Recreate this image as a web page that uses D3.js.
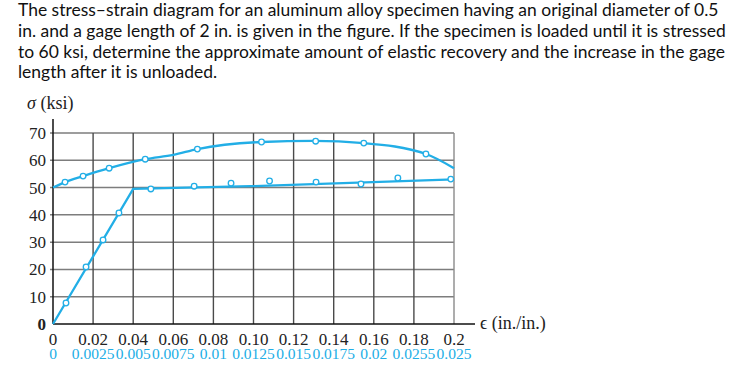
<!DOCTYPE html>
<html>
<head>
<meta charset="utf-8">
<script src="https://cdn.jsdelivr.net/npm/d3@7"></script>
<style>
  body { margin: 0; background: #fff; }
  svg { display: block; }
</style>
</head>
<body>
<svg id="chart" width="752" height="375"></svg>
<script>
// problem text above the figure
var titleLines = [
  "The stress\u2013strain diagram for an aluminum alloy specimen having an original diameter of 0.5",
  "in. and a gage length of 2 in. is given in the figure. If the specimen is loaded until it is stressed",
  "to 60 ksi, determine the approximate amount of elastic recovery and the increase in the gage",
  "length after it is unloaded."
];

// axis ticks
var stressTicks = [0, 10, 20, 30, 40, 50, 60, 70];
var strainTicks = [0, 0.02, 0.04, 0.06, 0.08, 0.10, 0.12, 0.14, 0.16, 0.18, 0.2];
var strainLabels = ["0", "0.02", "0.04", "0.06", "0.08", "0.10", "0.12", "0.14", "0.16", "0.18", "0.2"];
var strainLabelsBlue = ["0", "0.0025", "0.005", "0.0075", "0.01", "0.0125", "0.015", "0.0175", "0.02", "0.0255", "0.025"];

// upper curve (black strain scale)
var upperStrain = [0, 0.006, 0.015, 0.028, 0.046, 0.06, 0.072, 0.104, 0.13, 0.155, 0.186, 0.2];
var upperStress = [50, 52, 54.2, 57.1, 60.4, 62, 64.1, 66.7, 67.1, 66.3, 62.3, 57.1];
var upperMarkStrain = [0.006, 0.015, 0.028, 0.046, 0.072, 0.104, 0.131, 0.155, 0.186];
var upperMarkStress = [52, 54.2, 57.1, 60.4, 64.1, 66.7, 67, 66.3, 62.3];

// lower curve (blue strain scale)
var lowerStrain = [0, 0.005, 0.0123, 0.025];
var lowerStress = [0, 49.5, 50.5, 53.0];
var lowerMarkStrain = [0.00081, 0.00206, 0.00312, 0.00411, 0.0061, 0.0088, 0.0111, 0.0135, 0.0164, 0.0192, 0.0215, 0.0248];
var lowerMarkStress = [7.7, 20.9, 30.8, 40.7, 49.5, 50.5, 51.6, 52.4, 52, 51.3, 53.5, 53.1];

var blue = "#22aee6";
var svg = d3.select("#chart");

// title
var title = svg.append("g")
  .attr("font-family", "Lato, 'Open Sans', sans-serif")
  .attr("font-size", 16)
  .attr("fill", "#111");
var tl = title.selectAll("text").data(titleLines).enter().append("text")
  .attr("x", 18)
  .attr("y", function (d, i) { return 16 + i * 20.8; })
  .text(function (d) { return d; });
var w0 = tl.node().getComputedTextLength();
title.attr("font-size", 16 * 701 / w0);

var x = d3.scaleLinear().domain([0, 0.2]).range([53, 454]);
var xb = d3.scaleLinear().domain([0, 0.025]).range([53, 454]);
var y = d3.scaleLinear().domain([0, 70]).range([324, 133]);

// grid
var grid = svg.append("g");
grid.selectAll("line.h").data(stressTicks.slice(1)).enter().append("line")
  .attr("x1", x(0) - 3).attr("x2", x(0.2))
  .attr("y1", function (d) { return y(d); }).attr("y2", function (d) { return y(d); })
  .attr("stroke", "#7d7d7d").attr("stroke-width", 1.5);
grid.selectAll("line.v").data(strainTicks.slice(1)).enter().append("line")
  .attr("x1", function (d) { return x(d); }).attr("x2", function (d) { return x(d); })
  .attr("y1", y(70)).attr("y2", y(0))
  .attr("stroke", function (d, i) { return i == strainTicks.length - 2 ? "#8a8a8a" : "#4a4a4a"; })
  .attr("stroke-width", 1.4);

// axes lines
svg.append("line").attr("x1", x(0)).attr("x2", x(0))
  .attr("y1", y(70) - 14).attr("y2", y(0))
  .attr("stroke", "#111").attr("stroke-width", 1.5);
svg.append("line").attr("x1", x(0)).attr("x2", x(0.2) + 21)
  .attr("y1", y(0)).attr("y2", y(0))
  .attr("stroke", "#111").attr("stroke-width", 1.5);

// y tick labels
svg.append("g").attr("font-family", "'Liberation Serif', 'Times New Roman', serif")
  .attr("font-size", 17).attr("fill", "#222").attr("text-anchor", "end")
  .selectAll("text").data(stressTicks).enter().append("text")
  .attr("x", 46)
  .attr("y", function (d) { return y(d); })
  .attr("dy", "0.35em")
  .attr("font-weight", function (d) { return d == 0 ? "bold" : null; })
  .text(function (d) { return d; });

// x tick labels, black and blue rows
svg.append("g").attr("font-family", "'Liberation Serif', 'Times New Roman', serif")
  .attr("font-size", 17).attr("fill", "#222").attr("text-anchor", "middle")
  .selectAll("text").data(strainTicks).enter().append("text")
  .attr("x", function (d) { return x(d); })
  .attr("y", 345)
  .text(function (d, i) { return strainLabels[i]; });
svg.append("g").attr("font-family", "'Liberation Serif', 'Times New Roman', serif")
  .attr("font-size", 15.5).attr("fill", blue).attr("text-anchor", "middle")
  .selectAll("text").data(strainTicks).enter().append("text")
  .attr("x", function (d) { return x(d); })
  .attr("y", 359)
  .text(function (d, i) { return strainLabelsBlue[i]; });

// axis titles
var yt = svg.append("text").attr("x", 27).attr("y", 109)
  .attr("font-family", "'Liberation Serif', 'Times New Roman', serif")
  .attr("font-size", 18).attr("fill", "#222");
yt.append("tspan").attr("font-style", "italic").text("\u03c3");
yt.append("tspan").text(" (ksi)");
svg.append("text").attr("x", 480).attr("y", y(0) + 5)
  .attr("font-family", "'Liberation Serif', 'DejaVu Serif', serif")
  .attr("font-size", 18).attr("fill", "#222")
  .text("\u03f5 (in./in.)");

// curves
var upper = upperStrain.map(function (d, i) { return [d, upperStress[i]]; });
var lower = lowerStrain.map(function (d, i) { return [d, lowerStress[i]]; });

svg.append("path").datum(upper)
  .attr("fill", "none").attr("stroke", blue).attr("stroke-width", 2.3)
  .attr("d", d3.line().x(function (d) { return x(d[0]); }).y(function (d) { return y(d[1]); })
    .curve(d3.curveMonotoneX));
svg.append("path").datum(lower)
  .attr("fill", "none").attr("stroke", blue).attr("stroke-width", 2.3)
  .attr("d", d3.line().x(function (d) { return xb(d[0]); }).y(function (d) { return y(d[1]); }));

// markers
svg.append("g").selectAll("circle").data(upperMarkStrain).enter().append("circle")
  .attr("cx", function (d) { return x(d); })
  .attr("cy", function (d, i) { return y(upperMarkStress[i]); })
  .attr("r", 2.8).attr("fill", "#fff").attr("stroke", blue).attr("stroke-width", 1.3);
svg.append("g").selectAll("circle").data(lowerMarkStrain).enter().append("circle")
  .attr("cx", function (d) { return xb(d); })
  .attr("cy", function (d, i) { return y(lowerMarkStress[i]); })
  .attr("r", 2.8).attr("fill", "#fff").attr("stroke", blue).attr("stroke-width", 1.3);
</script>
</body>
</html>
